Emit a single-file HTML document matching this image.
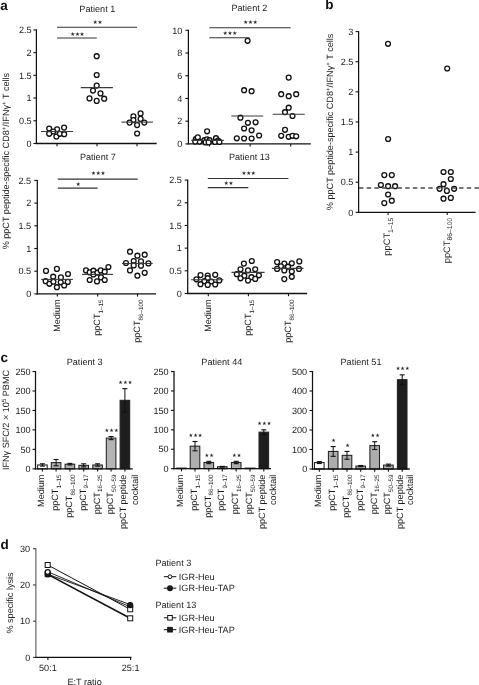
<!DOCTYPE html>
<html><head><meta charset="utf-8"><style>
html,body{margin:0;padding:0;background:#fff;}
svg{display:block;font-family:"Liberation Sans", Arial, sans-serif;text-rendering:geometricPrecision;}
</style></head><body>
<svg width="479" height="685" viewBox="0 0 479 685">
<rect width="479" height="685" fill="#fff"/>
<text x="0.2" y="9.6" font-size="13.5" font-weight="bold" fill="#111">a</text>
<text x="325.3" y="9.3" font-size="13.5" font-weight="bold" fill="#111">b</text>
<text x="0.4" y="361.6" font-size="13.5" font-weight="bold" fill="#111">c</text>
<text x="0.4" y="549.1" font-size="13.5" font-weight="bold" fill="#111">d</text>
<line x1="36.4" y1="29.4" x2="36.4" y2="144.0" stroke="#111" stroke-width="1.25" />
<line x1="33.4" y1="29.9" x2="36.4" y2="29.9" stroke="#111" stroke-width="1.1" />
<text x="31.599999999999998" y="33.1" font-size="9.1" text-anchor="end" fill="#1c1c1c" >2.5</text>
<line x1="33.4" y1="52.62" x2="36.4" y2="52.62" stroke="#111" stroke-width="1.1" />
<text x="31.599999999999998" y="55.82" font-size="9.1" text-anchor="end" fill="#1c1c1c" >2</text>
<line x1="33.4" y1="75.34" x2="36.4" y2="75.34" stroke="#111" stroke-width="1.1" />
<text x="31.599999999999998" y="78.54" font-size="9.1" text-anchor="end" fill="#1c1c1c" >1.5</text>
<line x1="33.4" y1="98.06" x2="36.4" y2="98.06" stroke="#111" stroke-width="1.1" />
<text x="31.599999999999998" y="101.26" font-size="9.1" text-anchor="end" fill="#1c1c1c" >1</text>
<line x1="33.4" y1="120.78" x2="36.4" y2="120.78" stroke="#111" stroke-width="1.1" />
<text x="31.599999999999998" y="123.98" font-size="9.1" text-anchor="end" fill="#1c1c1c" >0.5</text>
<line x1="33.4" y1="143.5" x2="36.4" y2="143.5" stroke="#111" stroke-width="1.1" />
<text x="31.599999999999998" y="146.7" font-size="9.1" text-anchor="end" fill="#1c1c1c" >0</text>
<line x1="35.8" y1="143.5" x2="156.7" y2="143.5" stroke="#111" stroke-width="1.3" />
<line x1="57" y1="143.5" x2="57" y2="146.2" stroke="#111" stroke-width="1.1" />
<line x1="97" y1="143.5" x2="97" y2="146.2" stroke="#111" stroke-width="1.1" />
<line x1="137" y1="143.5" x2="137" y2="146.2" stroke="#111" stroke-width="1.1" />
<text x="97.3" y="12" font-size="9.1" text-anchor="middle" fill="#1c1c1c" >Patient 1</text>
<circle cx="49.2" cy="128.5" r="2.45" fill="#fff" stroke="#111" stroke-width="1.3"/>
<circle cx="57.1" cy="129.3" r="2.45" fill="#fff" stroke="#111" stroke-width="1.3"/>
<circle cx="64.1" cy="127.6" r="2.45" fill="#fff" stroke="#111" stroke-width="1.3"/>
<circle cx="53.2" cy="131.5" r="2.45" fill="#fff" stroke="#111" stroke-width="1.3"/>
<circle cx="49.2" cy="133.8" r="2.45" fill="#fff" stroke="#111" stroke-width="1.3"/>
<circle cx="56.4" cy="136.6" r="2.45" fill="#fff" stroke="#111" stroke-width="1.3"/>
<circle cx="59.9" cy="133.8" r="2.45" fill="#fff" stroke="#111" stroke-width="1.3"/>
<circle cx="64.2" cy="134.2" r="2.45" fill="#fff" stroke="#111" stroke-width="1.3"/>
<circle cx="96.7" cy="56.2" r="2.45" fill="#fff" stroke="#111" stroke-width="1.3"/>
<circle cx="96.7" cy="75" r="2.45" fill="#fff" stroke="#111" stroke-width="1.3"/>
<circle cx="96.7" cy="85.6" r="2.45" fill="#fff" stroke="#111" stroke-width="1.3"/>
<circle cx="93" cy="90.6" r="2.45" fill="#fff" stroke="#111" stroke-width="1.3"/>
<circle cx="100.5" cy="93.4" r="2.45" fill="#fff" stroke="#111" stroke-width="1.3"/>
<circle cx="89.5" cy="98.4" r="2.45" fill="#fff" stroke="#111" stroke-width="1.3"/>
<circle cx="96.7" cy="100.9" r="2.45" fill="#fff" stroke="#111" stroke-width="1.3"/>
<circle cx="104.2" cy="98.7" r="2.45" fill="#fff" stroke="#111" stroke-width="1.3"/>
<circle cx="133.4" cy="116.4" r="2.45" fill="#fff" stroke="#111" stroke-width="1.3"/>
<circle cx="140.6" cy="113.4" r="2.45" fill="#fff" stroke="#111" stroke-width="1.3"/>
<circle cx="140.6" cy="118.9" r="2.45" fill="#fff" stroke="#111" stroke-width="1.3"/>
<circle cx="133.4" cy="120.1" r="2.45" fill="#fff" stroke="#111" stroke-width="1.3"/>
<circle cx="129.6" cy="122.6" r="2.45" fill="#fff" stroke="#111" stroke-width="1.3"/>
<circle cx="137.1" cy="125.1" r="2.45" fill="#fff" stroke="#111" stroke-width="1.3"/>
<circle cx="144.3" cy="122.6" r="2.45" fill="#fff" stroke="#111" stroke-width="1.3"/>
<circle cx="137.1" cy="133.5" r="2.45" fill="#fff" stroke="#111" stroke-width="1.3"/>
<line x1="41" y1="131.5" x2="73.1" y2="131.5" stroke="#3a3a3a" stroke-width="1.1" />
<line x1="80.8" y1="87.6" x2="112.9" y2="87.6" stroke="#3a3a3a" stroke-width="1.1" />
<line x1="121.4" y1="122.1" x2="153" y2="122.1" stroke="#3a3a3a" stroke-width="1.1" />
<line x1="57" y1="27.2" x2="137" y2="27.2" stroke="#333" stroke-width="1.1" />
<text x="95.15" y="23.87" font-size="5.5" text-anchor="middle" fill="#262626" font-family='"DejaVu Sans", sans-serif'>★</text>
<text x="99.85" y="23.87" font-size="5.5" text-anchor="middle" fill="#262626" font-family='"DejaVu Sans", sans-serif'>★</text>
<line x1="57" y1="38" x2="96.7" y2="38" stroke="#333" stroke-width="1.1" />
<text x="72.65" y="36.17" font-size="5.5" text-anchor="middle" fill="#262626" font-family='"DejaVu Sans", sans-serif'>★</text>
<text x="77.35" y="36.17" font-size="5.5" text-anchor="middle" fill="#262626" font-family='"DejaVu Sans", sans-serif'>★</text>
<text x="82.05" y="36.17" font-size="5.5" text-anchor="middle" fill="#262626" font-family='"DejaVu Sans", sans-serif'>★</text>
<line x1="188.4" y1="29.8" x2="188.4" y2="144.4" stroke="#111" stroke-width="1.25" />
<line x1="185.4" y1="30.3" x2="188.4" y2="30.3" stroke="#111" stroke-width="1.1" />
<text x="182.4" y="33.5" font-size="9.1" text-anchor="end" fill="#1c1c1c" >10</text>
<line x1="185.4" y1="53.02" x2="188.4" y2="53.02" stroke="#111" stroke-width="1.1" />
<text x="182.4" y="56.220000000000006" font-size="9.1" text-anchor="end" fill="#1c1c1c" >8</text>
<line x1="185.4" y1="75.74000000000001" x2="188.4" y2="75.74000000000001" stroke="#111" stroke-width="1.1" />
<text x="182.4" y="78.94000000000001" font-size="9.1" text-anchor="end" fill="#1c1c1c" >6</text>
<line x1="185.4" y1="98.46" x2="188.4" y2="98.46" stroke="#111" stroke-width="1.1" />
<text x="182.4" y="101.66" font-size="9.1" text-anchor="end" fill="#1c1c1c" >4</text>
<line x1="185.4" y1="121.18" x2="188.4" y2="121.18" stroke="#111" stroke-width="1.1" />
<text x="182.4" y="124.38000000000001" font-size="9.1" text-anchor="end" fill="#1c1c1c" >2</text>
<line x1="185.4" y1="143.9" x2="188.4" y2="143.9" stroke="#111" stroke-width="1.1" />
<text x="182.4" y="147.1" font-size="9.1" text-anchor="end" fill="#1c1c1c" >0</text>
<line x1="187.8" y1="143.9" x2="310.8" y2="143.9" stroke="#111" stroke-width="1.3" />
<line x1="209.4" y1="143.9" x2="209.4" y2="146.6" stroke="#111" stroke-width="1.1" />
<line x1="250.1" y1="143.9" x2="250.1" y2="146.6" stroke="#111" stroke-width="1.1" />
<line x1="290.7" y1="143.9" x2="290.7" y2="146.6" stroke="#111" stroke-width="1.1" />
<text x="249.4" y="11" font-size="9.1" text-anchor="middle" fill="#1c1c1c" >Patient 2</text>
<circle cx="207.1" cy="131.3" r="2.45" fill="#fff" stroke="#111" stroke-width="1.3"/>
<circle cx="195.8" cy="139.2" r="2.45" fill="#fff" stroke="#111" stroke-width="1.3"/>
<circle cx="197.8" cy="137.4" r="2.45" fill="#fff" stroke="#111" stroke-width="1.3"/>
<circle cx="199.4" cy="141.6" r="2.45" fill="#fff" stroke="#111" stroke-width="1.3"/>
<circle cx="195.2" cy="141.6" r="2.45" fill="#fff" stroke="#111" stroke-width="1.3"/>
<circle cx="204.4" cy="140.2" r="2.45" fill="#fff" stroke="#111" stroke-width="1.3"/>
<circle cx="207.1" cy="139.4" r="2.45" fill="#fff" stroke="#111" stroke-width="1.3"/>
<circle cx="209.6" cy="140.2" r="2.45" fill="#fff" stroke="#111" stroke-width="1.3"/>
<circle cx="205.6" cy="142.4" r="2.45" fill="#fff" stroke="#111" stroke-width="1.3"/>
<circle cx="208.6" cy="142.4" r="2.45" fill="#fff" stroke="#111" stroke-width="1.3"/>
<circle cx="216" cy="138.2" r="2.45" fill="#fff" stroke="#111" stroke-width="1.3"/>
<circle cx="218" cy="140.6" r="2.45" fill="#fff" stroke="#111" stroke-width="1.3"/>
<circle cx="215" cy="141.9" r="2.45" fill="#fff" stroke="#111" stroke-width="1.3"/>
<circle cx="219.4" cy="141.9" r="2.45" fill="#fff" stroke="#111" stroke-width="1.3"/>
<circle cx="247.6" cy="40.8" r="2.45" fill="#fff" stroke="#111" stroke-width="1.3"/>
<circle cx="244.1" cy="90.2" r="2.45" fill="#fff" stroke="#111" stroke-width="1.3"/>
<circle cx="251.6" cy="91.2" r="2.45" fill="#fff" stroke="#111" stroke-width="1.3"/>
<circle cx="240.4" cy="117.7" r="2.45" fill="#fff" stroke="#111" stroke-width="1.3"/>
<circle cx="247.9" cy="122.8" r="2.45" fill="#fff" stroke="#111" stroke-width="1.3"/>
<circle cx="255.6" cy="122.3" r="2.45" fill="#fff" stroke="#111" stroke-width="1.3"/>
<circle cx="244.1" cy="128.5" r="2.45" fill="#fff" stroke="#111" stroke-width="1.3"/>
<circle cx="251.6" cy="130.3" r="2.45" fill="#fff" stroke="#111" stroke-width="1.3"/>
<circle cx="236.8" cy="138.3" r="2.45" fill="#fff" stroke="#111" stroke-width="1.3"/>
<circle cx="244.1" cy="138.5" r="2.45" fill="#fff" stroke="#111" stroke-width="1.3"/>
<circle cx="251.6" cy="138.5" r="2.45" fill="#fff" stroke="#111" stroke-width="1.3"/>
<circle cx="259.1" cy="135.5" r="2.45" fill="#fff" stroke="#111" stroke-width="1.3"/>
<circle cx="288.7" cy="77.6" r="2.45" fill="#fff" stroke="#111" stroke-width="1.3"/>
<circle cx="281.2" cy="94.2" r="2.45" fill="#fff" stroke="#111" stroke-width="1.3"/>
<circle cx="288.7" cy="96.2" r="2.45" fill="#fff" stroke="#111" stroke-width="1.3"/>
<circle cx="296.2" cy="94.2" r="2.45" fill="#fff" stroke="#111" stroke-width="1.3"/>
<circle cx="288.7" cy="107.7" r="2.45" fill="#fff" stroke="#111" stroke-width="1.3"/>
<circle cx="285" cy="112.2" r="2.45" fill="#fff" stroke="#111" stroke-width="1.3"/>
<circle cx="292.5" cy="116" r="2.45" fill="#fff" stroke="#111" stroke-width="1.3"/>
<circle cx="285" cy="129.8" r="2.45" fill="#fff" stroke="#111" stroke-width="1.3"/>
<circle cx="281.2" cy="135.8" r="2.45" fill="#fff" stroke="#111" stroke-width="1.3"/>
<circle cx="288.7" cy="136.8" r="2.45" fill="#fff" stroke="#111" stroke-width="1.3"/>
<circle cx="292.5" cy="135.8" r="2.45" fill="#fff" stroke="#111" stroke-width="1.3"/>
<circle cx="296.2" cy="136.3" r="2.45" fill="#fff" stroke="#111" stroke-width="1.3"/>
<line x1="191.3" y1="140.4" x2="223.8" y2="140.4" stroke="#3a3a3a" stroke-width="1.1" />
<line x1="231.3" y1="116" x2="263.2" y2="116" stroke="#3a3a3a" stroke-width="1.1" />
<line x1="272.7" y1="114.2" x2="304.8" y2="114.2" stroke="#3a3a3a" stroke-width="1.1" />
<line x1="209.3" y1="27.7" x2="290.7" y2="27.7" stroke="#333" stroke-width="1.1" />
<text x="245.80" y="24.27" font-size="5.5" text-anchor="middle" fill="#262626" font-family='"DejaVu Sans", sans-serif'>★</text>
<text x="250.50" y="24.27" font-size="5.5" text-anchor="middle" fill="#262626" font-family='"DejaVu Sans", sans-serif'>★</text>
<text x="255.20" y="24.27" font-size="5.5" text-anchor="middle" fill="#262626" font-family='"DejaVu Sans", sans-serif'>★</text>
<line x1="209.3" y1="37.8" x2="249.6" y2="37.8" stroke="#333" stroke-width="1.1" />
<text x="225.25" y="35.47" font-size="5.5" text-anchor="middle" fill="#262626" font-family='"DejaVu Sans", sans-serif'>★</text>
<text x="229.95" y="35.47" font-size="5.5" text-anchor="middle" fill="#262626" font-family='"DejaVu Sans", sans-serif'>★</text>
<text x="234.65" y="35.47" font-size="5.5" text-anchor="middle" fill="#262626" font-family='"DejaVu Sans", sans-serif'>★</text>
<line x1="37.3" y1="179.9" x2="37.3" y2="294.4" stroke="#111" stroke-width="1.25" />
<line x1="34.3" y1="180.4" x2="37.3" y2="180.4" stroke="#111" stroke-width="1.1" />
<text x="31.199999999999996" y="183.6" font-size="9.1" text-anchor="end" fill="#1c1c1c" >2.5</text>
<line x1="34.3" y1="203.1" x2="37.3" y2="203.1" stroke="#111" stroke-width="1.1" />
<text x="31.199999999999996" y="206.29999999999998" font-size="9.1" text-anchor="end" fill="#1c1c1c" >2</text>
<line x1="34.3" y1="225.8" x2="37.3" y2="225.8" stroke="#111" stroke-width="1.1" />
<text x="31.199999999999996" y="229.0" font-size="9.1" text-anchor="end" fill="#1c1c1c" >1.5</text>
<line x1="34.3" y1="248.5" x2="37.3" y2="248.5" stroke="#111" stroke-width="1.1" />
<text x="31.199999999999996" y="251.7" font-size="9.1" text-anchor="end" fill="#1c1c1c" >1</text>
<line x1="34.3" y1="271.2" x2="37.3" y2="271.2" stroke="#111" stroke-width="1.1" />
<text x="31.199999999999996" y="274.4" font-size="9.1" text-anchor="end" fill="#1c1c1c" >0.5</text>
<line x1="34.3" y1="293.9" x2="37.3" y2="293.9" stroke="#111" stroke-width="1.1" />
<text x="31.199999999999996" y="297.09999999999997" font-size="9.1" text-anchor="end" fill="#1c1c1c" >0</text>
<line x1="36.699999999999996" y1="293.9" x2="156" y2="293.9" stroke="#111" stroke-width="1.3" />
<line x1="57.3" y1="293.9" x2="57.3" y2="296.59999999999997" stroke="#111" stroke-width="1.1" />
<line x1="97.7" y1="293.9" x2="97.7" y2="296.59999999999997" stroke="#111" stroke-width="1.1" />
<line x1="137.5" y1="293.9" x2="137.5" y2="296.59999999999997" stroke="#111" stroke-width="1.1" />
<text x="97.9" y="159.5" font-size="9.1" text-anchor="middle" fill="#1c1c1c" >Patient 7</text>
<circle cx="46" cy="270.9" r="2.45" fill="#fff" stroke="#111" stroke-width="1.3"/>
<circle cx="56.9" cy="268.9" r="2.45" fill="#fff" stroke="#111" stroke-width="1.3"/>
<circle cx="68" cy="274" r="2.45" fill="#fff" stroke="#111" stroke-width="1.3"/>
<circle cx="53.2" cy="276.7" r="2.45" fill="#fff" stroke="#111" stroke-width="1.3"/>
<circle cx="60.9" cy="277.4" r="2.45" fill="#fff" stroke="#111" stroke-width="1.3"/>
<circle cx="45.6" cy="281.2" r="2.45" fill="#fff" stroke="#111" stroke-width="1.3"/>
<circle cx="49.4" cy="283.8" r="2.45" fill="#fff" stroke="#111" stroke-width="1.3"/>
<circle cx="53.4" cy="281.7" r="2.45" fill="#fff" stroke="#111" stroke-width="1.3"/>
<circle cx="60.7" cy="282.3" r="2.45" fill="#fff" stroke="#111" stroke-width="1.3"/>
<circle cx="67.8" cy="281.9" r="2.45" fill="#fff" stroke="#111" stroke-width="1.3"/>
<circle cx="56.9" cy="287.2" r="2.45" fill="#fff" stroke="#111" stroke-width="1.3"/>
<circle cx="64.2" cy="285.5" r="2.45" fill="#fff" stroke="#111" stroke-width="1.3"/>
<circle cx="86" cy="270.4" r="2.45" fill="#fff" stroke="#111" stroke-width="1.3"/>
<circle cx="89.7" cy="272.4" r="2.45" fill="#fff" stroke="#111" stroke-width="1.3"/>
<circle cx="93.4" cy="270.7" r="2.45" fill="#fff" stroke="#111" stroke-width="1.3"/>
<circle cx="93.4" cy="274.4" r="2.45" fill="#fff" stroke="#111" stroke-width="1.3"/>
<circle cx="97.4" cy="272.7" r="2.45" fill="#fff" stroke="#111" stroke-width="1.3"/>
<circle cx="100.7" cy="270.4" r="2.45" fill="#fff" stroke="#111" stroke-width="1.3"/>
<circle cx="104.7" cy="271.7" r="2.45" fill="#fff" stroke="#111" stroke-width="1.3"/>
<circle cx="108.4" cy="267" r="2.45" fill="#fff" stroke="#111" stroke-width="1.3"/>
<circle cx="101" cy="277.4" r="2.45" fill="#fff" stroke="#111" stroke-width="1.3"/>
<circle cx="89.7" cy="280" r="2.45" fill="#fff" stroke="#111" stroke-width="1.3"/>
<circle cx="97" cy="281.4" r="2.45" fill="#fff" stroke="#111" stroke-width="1.3"/>
<circle cx="104.7" cy="280" r="2.45" fill="#fff" stroke="#111" stroke-width="1.3"/>
<circle cx="130" cy="251.7" r="2.45" fill="#fff" stroke="#111" stroke-width="1.3"/>
<circle cx="137.4" cy="255.7" r="2.45" fill="#fff" stroke="#111" stroke-width="1.3"/>
<circle cx="144.7" cy="254.7" r="2.45" fill="#fff" stroke="#111" stroke-width="1.3"/>
<circle cx="126" cy="263" r="2.45" fill="#fff" stroke="#111" stroke-width="1.3"/>
<circle cx="133.7" cy="261" r="2.45" fill="#fff" stroke="#111" stroke-width="1.3"/>
<circle cx="141" cy="261.4" r="2.45" fill="#fff" stroke="#111" stroke-width="1.3"/>
<circle cx="148.4" cy="263.4" r="2.45" fill="#fff" stroke="#111" stroke-width="1.3"/>
<circle cx="133.7" cy="265.4" r="2.45" fill="#fff" stroke="#111" stroke-width="1.3"/>
<circle cx="141" cy="265.7" r="2.45" fill="#fff" stroke="#111" stroke-width="1.3"/>
<circle cx="130" cy="270.4" r="2.45" fill="#fff" stroke="#111" stroke-width="1.3"/>
<circle cx="144.7" cy="272.8" r="2.45" fill="#fff" stroke="#111" stroke-width="1.3"/>
<circle cx="137.4" cy="275.7" r="2.45" fill="#fff" stroke="#111" stroke-width="1.3"/>
<line x1="41.1" y1="279.4" x2="72.9" y2="279.4" stroke="#3a3a3a" stroke-width="1.1" />
<line x1="82" y1="274.4" x2="112.9" y2="274.4" stroke="#3a3a3a" stroke-width="1.1" />
<line x1="122" y1="263.5" x2="152.7" y2="263.5" stroke="#3a3a3a" stroke-width="1.1" />
<line x1="57.8" y1="179.1" x2="137.7" y2="179.1" stroke="#333" stroke-width="1.1" />
<text x="93.55" y="175.07" font-size="5.5" text-anchor="middle" fill="#262626" font-family='"DejaVu Sans", sans-serif'>★</text>
<text x="98.25" y="175.07" font-size="5.5" text-anchor="middle" fill="#262626" font-family='"DejaVu Sans", sans-serif'>★</text>
<text x="102.95" y="175.07" font-size="5.5" text-anchor="middle" fill="#262626" font-family='"DejaVu Sans", sans-serif'>★</text>
<line x1="57.8" y1="188.1" x2="97.6" y2="188.1" stroke="#333" stroke-width="1.1" />
<text x="78.20" y="186.17" font-size="5.5" text-anchor="middle" fill="#262626" font-family='"DejaVu Sans", sans-serif'>★</text>
<line x1="187.7" y1="179.6" x2="187.7" y2="294.0" stroke="#111" stroke-width="1.25" />
<line x1="184.7" y1="180.1" x2="187.7" y2="180.1" stroke="#111" stroke-width="1.1" />
<text x="181.89999999999998" y="183.29999999999998" font-size="9.1" text-anchor="end" fill="#1c1c1c" >2.5</text>
<line x1="184.7" y1="202.78" x2="187.7" y2="202.78" stroke="#111" stroke-width="1.1" />
<text x="181.89999999999998" y="205.98" font-size="9.1" text-anchor="end" fill="#1c1c1c" >2</text>
<line x1="184.7" y1="225.45999999999998" x2="187.7" y2="225.45999999999998" stroke="#111" stroke-width="1.1" />
<text x="181.89999999999998" y="228.65999999999997" font-size="9.1" text-anchor="end" fill="#1c1c1c" >1.5</text>
<line x1="184.7" y1="248.14" x2="187.7" y2="248.14" stroke="#111" stroke-width="1.1" />
<text x="181.89999999999998" y="251.33999999999997" font-size="9.1" text-anchor="end" fill="#1c1c1c" >1</text>
<line x1="184.7" y1="270.82" x2="187.7" y2="270.82" stroke="#111" stroke-width="1.1" />
<text x="181.89999999999998" y="274.02" font-size="9.1" text-anchor="end" fill="#1c1c1c" >0.5</text>
<line x1="184.7" y1="293.5" x2="187.7" y2="293.5" stroke="#111" stroke-width="1.1" />
<text x="181.89999999999998" y="296.7" font-size="9.1" text-anchor="end" fill="#1c1c1c" >0</text>
<line x1="187.1" y1="293.5" x2="307.2" y2="293.5" stroke="#111" stroke-width="1.3" />
<line x1="208.3" y1="293.5" x2="208.3" y2="296.2" stroke="#111" stroke-width="1.1" />
<line x1="248.4" y1="293.5" x2="248.4" y2="296.2" stroke="#111" stroke-width="1.1" />
<line x1="288.5" y1="293.5" x2="288.5" y2="296.2" stroke="#111" stroke-width="1.1" />
<text x="249.4" y="159.5" font-size="9.1" text-anchor="middle" fill="#1c1c1c" >Patient 13</text>
<circle cx="200.5" cy="275.1" r="2.45" fill="#fff" stroke="#111" stroke-width="1.3"/>
<circle cx="207.7" cy="275.5" r="2.45" fill="#fff" stroke="#111" stroke-width="1.3"/>
<circle cx="215.2" cy="274.8" r="2.45" fill="#fff" stroke="#111" stroke-width="1.3"/>
<circle cx="196.4" cy="279.3" r="2.45" fill="#fff" stroke="#111" stroke-width="1.3"/>
<circle cx="207.7" cy="278.2" r="2.45" fill="#fff" stroke="#111" stroke-width="1.3"/>
<circle cx="204.3" cy="281.2" r="2.45" fill="#fff" stroke="#111" stroke-width="1.3"/>
<circle cx="211.4" cy="281.5" r="2.45" fill="#fff" stroke="#111" stroke-width="1.3"/>
<circle cx="219.3" cy="280.4" r="2.45" fill="#fff" stroke="#111" stroke-width="1.3"/>
<circle cx="200.5" cy="284.2" r="2.45" fill="#fff" stroke="#111" stroke-width="1.3"/>
<circle cx="207.7" cy="284.9" r="2.45" fill="#fff" stroke="#111" stroke-width="1.3"/>
<circle cx="215.2" cy="284.5" r="2.45" fill="#fff" stroke="#111" stroke-width="1.3"/>
<circle cx="251.8" cy="261" r="2.45" fill="#fff" stroke="#111" stroke-width="1.3"/>
<circle cx="243.9" cy="263.6" r="2.45" fill="#fff" stroke="#111" stroke-width="1.3"/>
<circle cx="240.5" cy="269.3" r="2.45" fill="#fff" stroke="#111" stroke-width="1.3"/>
<circle cx="248" cy="270.4" r="2.45" fill="#fff" stroke="#111" stroke-width="1.3"/>
<circle cx="255.2" cy="269.3" r="2.45" fill="#fff" stroke="#111" stroke-width="1.3"/>
<circle cx="236.8" cy="274.2" r="2.45" fill="#fff" stroke="#111" stroke-width="1.3"/>
<circle cx="244.3" cy="275.7" r="2.45" fill="#fff" stroke="#111" stroke-width="1.3"/>
<circle cx="251.4" cy="277.2" r="2.45" fill="#fff" stroke="#111" stroke-width="1.3"/>
<circle cx="258.9" cy="275.3" r="2.45" fill="#fff" stroke="#111" stroke-width="1.3"/>
<circle cx="240.5" cy="278.3" r="2.45" fill="#fff" stroke="#111" stroke-width="1.3"/>
<circle cx="248" cy="280.6" r="2.45" fill="#fff" stroke="#111" stroke-width="1.3"/>
<circle cx="255.2" cy="278.9" r="2.45" fill="#fff" stroke="#111" stroke-width="1.3"/>
<circle cx="277.1" cy="262.1" r="2.45" fill="#fff" stroke="#111" stroke-width="1.3"/>
<circle cx="284.3" cy="263.6" r="2.45" fill="#fff" stroke="#111" stroke-width="1.3"/>
<circle cx="291.8" cy="263.3" r="2.45" fill="#fff" stroke="#111" stroke-width="1.3"/>
<circle cx="299.3" cy="261.4" r="2.45" fill="#fff" stroke="#111" stroke-width="1.3"/>
<circle cx="280.9" cy="266.3" r="2.45" fill="#fff" stroke="#111" stroke-width="1.3"/>
<circle cx="288" cy="266.7" r="2.45" fill="#fff" stroke="#111" stroke-width="1.3"/>
<circle cx="277.1" cy="268.9" r="2.45" fill="#fff" stroke="#111" stroke-width="1.3"/>
<circle cx="284.3" cy="270.4" r="2.45" fill="#fff" stroke="#111" stroke-width="1.3"/>
<circle cx="291.8" cy="271.5" r="2.45" fill="#fff" stroke="#111" stroke-width="1.3"/>
<circle cx="299" cy="268.9" r="2.45" fill="#fff" stroke="#111" stroke-width="1.3"/>
<circle cx="291.8" cy="276.8" r="2.45" fill="#fff" stroke="#111" stroke-width="1.3"/>
<circle cx="284.3" cy="279.1" r="2.45" fill="#fff" stroke="#111" stroke-width="1.3"/>
<line x1="191.1" y1="279.8" x2="223.5" y2="279.8" stroke="#3a3a3a" stroke-width="1.1" />
<line x1="231.5" y1="272.4" x2="264.6" y2="272.4" stroke="#3a3a3a" stroke-width="1.1" />
<line x1="271.9" y1="268.4" x2="303.5" y2="268.4" stroke="#3a3a3a" stroke-width="1.1" />
<line x1="207.8" y1="178.5" x2="288.4" y2="178.5" stroke="#333" stroke-width="1.1" />
<text x="243.90" y="175.47" font-size="5.5" text-anchor="middle" fill="#262626" font-family='"DejaVu Sans", sans-serif'>★</text>
<text x="248.60" y="175.47" font-size="5.5" text-anchor="middle" fill="#262626" font-family='"DejaVu Sans", sans-serif'>★</text>
<text x="253.30" y="175.47" font-size="5.5" text-anchor="middle" fill="#262626" font-family='"DejaVu Sans", sans-serif'>★</text>
<line x1="207.8" y1="187.6" x2="248.3" y2="187.6" stroke="#333" stroke-width="1.1" />
<text x="226.20" y="185.17" font-size="5.5" text-anchor="middle" fill="#262626" font-family='"DejaVu Sans", sans-serif'>★</text>
<text x="230.90" y="185.17" font-size="5.5" text-anchor="middle" fill="#262626" font-family='"DejaVu Sans", sans-serif'>★</text>
<text transform="translate(9.0,161.1) rotate(-90)" font-size="9.1" text-anchor="middle" fill="#1c1c1c">% ppCT peptide-specific CD8<tspan font-size="6" dy="-3">+</tspan><tspan dy="3">/IFNγ</tspan><tspan font-size="6" dy="-3">+</tspan><tspan dy="3"> T cells</tspan></text>
<text transform="translate(59.9,299.5) rotate(-90)" font-size="9.1" text-anchor="end" fill="#1c1c1c">Medium</text>
<text transform="translate(100.3,299.5) rotate(-90)" font-size="9.1" text-anchor="end" fill="#1c1c1c">ppCT<tspan font-size="6.3" dy="2.7">1–15</tspan></text>
<text transform="translate(140.1,299.5) rotate(-90)" font-size="9.1" text-anchor="end" fill="#1c1c1c">ppCT<tspan font-size="6.3" dy="2.7">86–100</tspan></text>
<text transform="translate(210.9,299.5) rotate(-90)" font-size="9.1" text-anchor="end" fill="#1c1c1c">Medium</text>
<text transform="translate(251.0,299.5) rotate(-90)" font-size="9.1" text-anchor="end" fill="#1c1c1c">ppCT<tspan font-size="6.3" dy="2.7">1–15</tspan></text>
<text transform="translate(291.1,299.5) rotate(-90)" font-size="9.1" text-anchor="end" fill="#1c1c1c">ppCT<tspan font-size="6.3" dy="2.7">86–100</tspan></text>
<line x1="358.6" y1="31.1" x2="358.6" y2="212.85" stroke="#111" stroke-width="1.25" />
<line x1="355.6" y1="31.6" x2="358.6" y2="31.6" stroke="#111" stroke-width="1.1" />
<text x="353.3" y="34.800000000000004" font-size="9.1" text-anchor="end" fill="#1c1c1c" >3</text>
<line x1="355.6" y1="61.725" x2="358.6" y2="61.725" stroke="#111" stroke-width="1.1" />
<text x="353.3" y="64.925" font-size="9.1" text-anchor="end" fill="#1c1c1c" >2.5</text>
<line x1="355.6" y1="91.85" x2="358.6" y2="91.85" stroke="#111" stroke-width="1.1" />
<text x="353.3" y="95.05" font-size="9.1" text-anchor="end" fill="#1c1c1c" >2</text>
<line x1="355.6" y1="121.975" x2="358.6" y2="121.975" stroke="#111" stroke-width="1.1" />
<text x="353.3" y="125.175" font-size="9.1" text-anchor="end" fill="#1c1c1c" >1.5</text>
<line x1="355.6" y1="152.1" x2="358.6" y2="152.1" stroke="#111" stroke-width="1.1" />
<text x="353.3" y="155.29999999999998" font-size="9.1" text-anchor="end" fill="#1c1c1c" >1</text>
<line x1="355.6" y1="182.225" x2="358.6" y2="182.225" stroke="#111" stroke-width="1.1" />
<text x="353.3" y="185.42499999999998" font-size="9.1" text-anchor="end" fill="#1c1c1c" >0.5</text>
<line x1="355.6" y1="212.35" x2="358.6" y2="212.35" stroke="#111" stroke-width="1.1" />
<text x="353.3" y="215.54999999999998" font-size="9.1" text-anchor="end" fill="#1c1c1c" >0</text>
<line x1="358.0" y1="212.35" x2="475.6" y2="212.35" stroke="#111" stroke-width="1.3" />
<line x1="388.1" y1="212.35" x2="388.1" y2="215.04999999999998" stroke="#111" stroke-width="1.1" />
<line x1="447.2" y1="212.35" x2="447.2" y2="215.04999999999998" stroke="#111" stroke-width="1.1" />
<circle cx="388" cy="43.8" r="2.45" fill="#fff" stroke="#111" stroke-width="1.3"/>
<circle cx="388.1" cy="139" r="2.45" fill="#fff" stroke="#111" stroke-width="1.3"/>
<circle cx="384.3" cy="175.1" r="2.45" fill="#fff" stroke="#111" stroke-width="1.3"/>
<circle cx="391.8" cy="175.1" r="2.45" fill="#fff" stroke="#111" stroke-width="1.3"/>
<circle cx="380.9" cy="185" r="2.45" fill="#fff" stroke="#111" stroke-width="1.3"/>
<circle cx="388.1" cy="186.2" r="2.45" fill="#fff" stroke="#111" stroke-width="1.3"/>
<circle cx="395.1" cy="186.2" r="2.45" fill="#fff" stroke="#111" stroke-width="1.3"/>
<circle cx="388.1" cy="194.5" r="2.45" fill="#fff" stroke="#111" stroke-width="1.3"/>
<circle cx="384.3" cy="203.1" r="2.45" fill="#fff" stroke="#111" stroke-width="1.3"/>
<circle cx="391.8" cy="200.7" r="2.45" fill="#fff" stroke="#111" stroke-width="1.3"/>
<circle cx="447.2" cy="68.5" r="2.45" fill="#fff" stroke="#111" stroke-width="1.3"/>
<circle cx="443.5" cy="172" r="2.45" fill="#fff" stroke="#111" stroke-width="1.3"/>
<circle cx="450.8" cy="172" r="2.45" fill="#fff" stroke="#111" stroke-width="1.3"/>
<circle cx="450.8" cy="179" r="2.45" fill="#fff" stroke="#111" stroke-width="1.3"/>
<circle cx="443.5" cy="184.2" r="2.45" fill="#fff" stroke="#111" stroke-width="1.3"/>
<circle cx="439.6" cy="188.8" r="2.45" fill="#fff" stroke="#111" stroke-width="1.3"/>
<circle cx="446.9" cy="190.9" r="2.45" fill="#fff" stroke="#111" stroke-width="1.3"/>
<circle cx="454.1" cy="188.8" r="2.45" fill="#fff" stroke="#111" stroke-width="1.3"/>
<circle cx="443.5" cy="198.7" r="2.45" fill="#fff" stroke="#111" stroke-width="1.3"/>
<circle cx="450.8" cy="197.9" r="2.45" fill="#fff" stroke="#111" stroke-width="1.3"/>
<line x1="359.0" y1="188.0" x2="479" y2="188.0" stroke="#4a4a4a" stroke-width="1.6" stroke-dasharray="4.4,3.3"/>
<text transform="translate(332.5,121.9) rotate(-90)" font-size="9.1" text-anchor="middle" fill="#1c1c1c">% ppCT peptide-specific CD8<tspan font-size="6" dy="-3">+</tspan><tspan dy="3">/IFNγ</tspan><tspan font-size="6" dy="-3">+</tspan><tspan dy="3"> T cells</tspan></text>
<text transform="translate(390.4,217.8) rotate(-90)" font-size="9.3" text-anchor="end" fill="#1c1c1c">ppCT<tspan font-size="6.8" dy="2.9">1–15</tspan></text>
<text transform="translate(449.5,217.8) rotate(-90)" font-size="9.3" text-anchor="end" fill="#1c1c1c">ppCT<tspan font-size="6.8" dy="2.9">86–100</tspan></text>
<line x1="35.5" y1="371.0" x2="35.5" y2="469.35" stroke="#111" stroke-width="1.25" />
<line x1="32.5" y1="371.5" x2="35.5" y2="371.5" stroke="#111" stroke-width="1.1" />
<text x="30.6" y="374.7" font-size="9.1" text-anchor="end" fill="#1c1c1c" >250</text>
<line x1="32.5" y1="390.97" x2="35.5" y2="390.97" stroke="#111" stroke-width="1.1" />
<text x="30.6" y="394.17" font-size="9.1" text-anchor="end" fill="#1c1c1c" >200</text>
<line x1="32.5" y1="410.44" x2="35.5" y2="410.44" stroke="#111" stroke-width="1.1" />
<text x="30.6" y="413.64" font-size="9.1" text-anchor="end" fill="#1c1c1c" >150</text>
<line x1="32.5" y1="429.91" x2="35.5" y2="429.91" stroke="#111" stroke-width="1.1" />
<text x="30.6" y="433.11" font-size="9.1" text-anchor="end" fill="#1c1c1c" >100</text>
<line x1="32.5" y1="449.38" x2="35.5" y2="449.38" stroke="#111" stroke-width="1.1" />
<text x="30.6" y="452.58" font-size="9.1" text-anchor="end" fill="#1c1c1c" >50</text>
<line x1="32.5" y1="468.85" x2="35.5" y2="468.85" stroke="#111" stroke-width="1.1" />
<text x="30.6" y="472.05" font-size="9.1" text-anchor="end" fill="#1c1c1c" >0</text>
<rect x="37.60" y="464.96" width="9.6" height="3.89" fill="#fff" stroke="#222" stroke-width="1.05"/>
<line x1="42.4" y1="463.7878" x2="42.4" y2="466.12420000000003" stroke="#111" stroke-width="1.0" />
<line x1="39.9" y1="463.7878" x2="44.9" y2="463.7878" stroke="#111" stroke-width="1.1" />
<line x1="39.9" y1="466.12420000000003" x2="44.9" y2="466.12420000000003" stroke="#111" stroke-width="1.1" />
<rect x="51.30" y="462.62" width="9.6" height="6.23" fill="#adadad" stroke="#222" stroke-width="1.05"/>
<line x1="56.1" y1="459.50440000000003" x2="56.1" y2="465.73480000000006" stroke="#111" stroke-width="1.0" />
<line x1="53.6" y1="459.50440000000003" x2="58.6" y2="459.50440000000003" stroke="#111" stroke-width="1.1" />
<line x1="53.6" y1="465.73480000000006" x2="58.6" y2="465.73480000000006" stroke="#111" stroke-width="1.1" />
<rect x="65.10" y="464.18" width="9.6" height="4.67" fill="#adadad" stroke="#222" stroke-width="1.05"/>
<line x1="69.9" y1="463.39840000000004" x2="69.9" y2="464.956" stroke="#111" stroke-width="1.0" />
<line x1="67.4" y1="463.39840000000004" x2="72.4" y2="463.39840000000004" stroke="#111" stroke-width="1.1" />
<line x1="67.4" y1="464.956" x2="72.4" y2="464.956" stroke="#111" stroke-width="1.1" />
<rect x="78.90" y="465.35" width="9.6" height="3.50" fill="#adadad" stroke="#222" stroke-width="1.05"/>
<line x1="83.7" y1="463.78780000000006" x2="83.7" y2="466.903" stroke="#111" stroke-width="1.0" />
<line x1="81.2" y1="463.78780000000006" x2="86.2" y2="463.78780000000006" stroke="#111" stroke-width="1.1" />
<line x1="81.2" y1="466.903" x2="86.2" y2="466.903" stroke="#111" stroke-width="1.1" />
<rect x="92.80" y="464.96" width="9.6" height="3.89" fill="#adadad" stroke="#222" stroke-width="1.05"/>
<line x1="97.6" y1="463.7878" x2="97.6" y2="466.12420000000003" stroke="#111" stroke-width="1.0" />
<line x1="95.1" y1="463.7878" x2="100.1" y2="463.7878" stroke="#111" stroke-width="1.1" />
<line x1="95.1" y1="466.12420000000003" x2="100.1" y2="466.12420000000003" stroke="#111" stroke-width="1.1" />
<rect x="106.30" y="438.09" width="9.6" height="30.76" fill="#b4b4b4" stroke="#222" stroke-width="1.05"/>
<line x1="111.1" y1="436.5298" x2="111.1" y2="439.645" stroke="#111" stroke-width="1.0" />
<line x1="108.6" y1="436.5298" x2="113.6" y2="436.5298" stroke="#111" stroke-width="1.1" />
<line x1="108.6" y1="439.645" x2="113.6" y2="439.645" stroke="#111" stroke-width="1.1" />
<text x="106.90" y="432.10" font-size="5.2" text-anchor="middle" fill="#262626" font-family='"DejaVu Sans", sans-serif'>★</text>
<text x="111.60" y="432.10" font-size="5.2" text-anchor="middle" fill="#262626" font-family='"DejaVu Sans", sans-serif'>★</text>
<text x="116.30" y="432.10" font-size="5.2" text-anchor="middle" fill="#262626" font-family='"DejaVu Sans", sans-serif'>★</text>
<rect x="120.10" y="400.32" width="9.6" height="68.53" fill="#1e1e1e" stroke="#222" stroke-width="1.05"/>
<line x1="124.9" y1="388.6336" x2="124.9" y2="411.99760000000003" stroke="#111" stroke-width="1.0" />
<line x1="122.4" y1="388.6336" x2="127.4" y2="388.6336" stroke="#111" stroke-width="1.1" />
<line x1="122.4" y1="411.99760000000003" x2="127.4" y2="411.99760000000003" stroke="#111" stroke-width="1.1" />
<text x="120.70" y="384.20" font-size="5.2" text-anchor="middle" fill="#262626" font-family='"DejaVu Sans", sans-serif'>★</text>
<text x="125.40" y="384.20" font-size="5.2" text-anchor="middle" fill="#262626" font-family='"DejaVu Sans", sans-serif'>★</text>
<text x="130.10" y="384.20" font-size="5.2" text-anchor="middle" fill="#262626" font-family='"DejaVu Sans", sans-serif'>★</text>
<line x1="34.9" y1="468.85" x2="132.8" y2="468.85" stroke="#111" stroke-width="1.3" />
<line x1="42.4" y1="468.85" x2="42.4" y2="471.55" stroke="#111" stroke-width="1.1" />
<line x1="56.1" y1="468.85" x2="56.1" y2="471.55" stroke="#111" stroke-width="1.1" />
<line x1="69.9" y1="468.85" x2="69.9" y2="471.55" stroke="#111" stroke-width="1.1" />
<line x1="83.7" y1="468.85" x2="83.7" y2="471.55" stroke="#111" stroke-width="1.1" />
<line x1="97.6" y1="468.85" x2="97.6" y2="471.55" stroke="#111" stroke-width="1.1" />
<line x1="111.1" y1="468.85" x2="111.1" y2="471.55" stroke="#111" stroke-width="1.1" />
<line x1="124.9" y1="468.85" x2="124.9" y2="471.55" stroke="#111" stroke-width="1.1" />
<text x="84.7" y="365" font-size="9.1" text-anchor="middle" fill="#1c1c1c" >Patient 3</text>
<line x1="174.0" y1="371.0" x2="174.0" y2="469.2" stroke="#111" stroke-width="1.25" />
<line x1="171.0" y1="371.5" x2="174.0" y2="371.5" stroke="#111" stroke-width="1.1" />
<text x="168.6" y="374.7" font-size="9.1" text-anchor="end" fill="#1c1c1c" >250</text>
<line x1="171.0" y1="390.94" x2="174.0" y2="390.94" stroke="#111" stroke-width="1.1" />
<text x="168.6" y="394.14" font-size="9.1" text-anchor="end" fill="#1c1c1c" >200</text>
<line x1="171.0" y1="410.38" x2="174.0" y2="410.38" stroke="#111" stroke-width="1.1" />
<text x="168.6" y="413.58" font-size="9.1" text-anchor="end" fill="#1c1c1c" >150</text>
<line x1="171.0" y1="429.82" x2="174.0" y2="429.82" stroke="#111" stroke-width="1.1" />
<text x="168.6" y="433.02" font-size="9.1" text-anchor="end" fill="#1c1c1c" >100</text>
<line x1="171.0" y1="449.26" x2="174.0" y2="449.26" stroke="#111" stroke-width="1.1" />
<text x="168.6" y="452.46" font-size="9.1" text-anchor="end" fill="#1c1c1c" >50</text>
<line x1="171.0" y1="468.7" x2="174.0" y2="468.7" stroke="#111" stroke-width="1.1" />
<text x="168.6" y="471.9" font-size="9.1" text-anchor="end" fill="#1c1c1c" >0</text>
<rect x="176.70" y="468.10" width="9.6" height="0.60" fill="#fff" stroke="#222" stroke-width="1.05"/>
<rect x="190.20" y="446.15" width="9.6" height="22.55" fill="#adadad" stroke="#222" stroke-width="1.05"/>
<line x1="195" y1="441.484" x2="195" y2="450.81519999999995" stroke="#111" stroke-width="1.0" />
<line x1="192.5" y1="441.484" x2="197.5" y2="441.484" stroke="#111" stroke-width="1.1" />
<line x1="192.5" y1="450.81519999999995" x2="197.5" y2="450.81519999999995" stroke="#111" stroke-width="1.1" />
<text x="190.80" y="437.05" font-size="5.2" text-anchor="middle" fill="#262626" font-family='"DejaVu Sans", sans-serif'>★</text>
<text x="195.50" y="437.05" font-size="5.2" text-anchor="middle" fill="#262626" font-family='"DejaVu Sans", sans-serif'>★</text>
<text x="200.20" y="437.05" font-size="5.2" text-anchor="middle" fill="#262626" font-family='"DejaVu Sans", sans-serif'>★</text>
<rect x="204.00" y="462.48" width="9.6" height="6.22" fill="#adadad" stroke="#222" stroke-width="1.05"/>
<line x1="208.8" y1="461.3128" x2="208.8" y2="463.6456" stroke="#111" stroke-width="1.0" />
<line x1="206.3" y1="461.3128" x2="211.3" y2="461.3128" stroke="#111" stroke-width="1.1" />
<line x1="206.3" y1="463.6456" x2="211.3" y2="463.6456" stroke="#111" stroke-width="1.1" />
<text x="206.95" y="456.88" font-size="5.2" text-anchor="middle" fill="#262626" font-family='"DejaVu Sans", sans-serif'>★</text>
<text x="211.65" y="456.88" font-size="5.2" text-anchor="middle" fill="#262626" font-family='"DejaVu Sans", sans-serif'>★</text>
<rect x="217.50" y="466.76" width="9.6" height="1.94" fill="#adadad" stroke="#222" stroke-width="1.05"/>
<line x1="222.3" y1="466.36719999999997" x2="222.3" y2="467.1448" stroke="#111" stroke-width="1.0" />
<line x1="219.8" y1="466.36719999999997" x2="224.8" y2="466.36719999999997" stroke="#111" stroke-width="1.1" />
<line x1="219.8" y1="467.1448" x2="224.8" y2="467.1448" stroke="#111" stroke-width="1.1" />
<rect x="231.40" y="462.48" width="9.6" height="6.22" fill="#adadad" stroke="#222" stroke-width="1.05"/>
<line x1="236.2" y1="461.3128" x2="236.2" y2="463.6456" stroke="#111" stroke-width="1.0" />
<line x1="233.7" y1="461.3128" x2="238.7" y2="461.3128" stroke="#111" stroke-width="1.1" />
<line x1="233.7" y1="463.6456" x2="238.7" y2="463.6456" stroke="#111" stroke-width="1.1" />
<text x="234.35" y="456.88" font-size="5.2" text-anchor="middle" fill="#262626" font-family='"DejaVu Sans", sans-serif'>★</text>
<text x="239.05" y="456.88" font-size="5.2" text-anchor="middle" fill="#262626" font-family='"DejaVu Sans", sans-serif'>★</text>
<rect x="245.20" y="468.10" width="9.6" height="0.60" fill="#adadad" stroke="#222" stroke-width="1.05"/>
<rect x="259.00" y="432.15" width="9.6" height="36.55" fill="#1e1e1e" stroke="#222" stroke-width="1.05"/>
<line x1="263.8" y1="429.82" x2="263.8" y2="434.48560000000003" stroke="#111" stroke-width="1.0" />
<line x1="261.3" y1="429.82" x2="266.3" y2="429.82" stroke="#111" stroke-width="1.1" />
<line x1="261.3" y1="434.48560000000003" x2="266.3" y2="434.48560000000003" stroke="#111" stroke-width="1.1" />
<text x="259.60" y="425.39" font-size="5.2" text-anchor="middle" fill="#262626" font-family='"DejaVu Sans", sans-serif'>★</text>
<text x="264.30" y="425.39" font-size="5.2" text-anchor="middle" fill="#262626" font-family='"DejaVu Sans", sans-serif'>★</text>
<text x="269.00" y="425.39" font-size="5.2" text-anchor="middle" fill="#262626" font-family='"DejaVu Sans", sans-serif'>★</text>
<line x1="173.4" y1="468.7" x2="271" y2="468.7" stroke="#111" stroke-width="1.3" />
<line x1="181.5" y1="468.7" x2="181.5" y2="471.4" stroke="#111" stroke-width="1.1" />
<line x1="195" y1="468.7" x2="195" y2="471.4" stroke="#111" stroke-width="1.1" />
<line x1="208.8" y1="468.7" x2="208.8" y2="471.4" stroke="#111" stroke-width="1.1" />
<line x1="222.3" y1="468.7" x2="222.3" y2="471.4" stroke="#111" stroke-width="1.1" />
<line x1="236.2" y1="468.7" x2="236.2" y2="471.4" stroke="#111" stroke-width="1.1" />
<line x1="250" y1="468.7" x2="250" y2="471.4" stroke="#111" stroke-width="1.1" />
<line x1="263.8" y1="468.7" x2="263.8" y2="471.4" stroke="#111" stroke-width="1.1" />
<text x="221.8" y="365" font-size="9.1" text-anchor="middle" fill="#1c1c1c" >Patient 44</text>
<line x1="312.5" y1="371.0" x2="312.5" y2="469.5" stroke="#111" stroke-width="1.25" />
<line x1="309.5" y1="371.5" x2="312.5" y2="371.5" stroke="#111" stroke-width="1.1" />
<text x="307.2" y="374.7" font-size="9.1" text-anchor="end" fill="#1c1c1c" >500</text>
<line x1="309.5" y1="391.0" x2="312.5" y2="391.0" stroke="#111" stroke-width="1.1" />
<text x="307.2" y="394.2" font-size="9.1" text-anchor="end" fill="#1c1c1c" >400</text>
<line x1="309.5" y1="410.5" x2="312.5" y2="410.5" stroke="#111" stroke-width="1.1" />
<text x="307.2" y="413.7" font-size="9.1" text-anchor="end" fill="#1c1c1c" >300</text>
<line x1="309.5" y1="430.0" x2="312.5" y2="430.0" stroke="#111" stroke-width="1.1" />
<text x="307.2" y="433.2" font-size="9.1" text-anchor="end" fill="#1c1c1c" >200</text>
<line x1="309.5" y1="449.5" x2="312.5" y2="449.5" stroke="#111" stroke-width="1.1" />
<text x="307.2" y="452.7" font-size="9.1" text-anchor="end" fill="#1c1c1c" >100</text>
<line x1="309.5" y1="469.0" x2="312.5" y2="469.0" stroke="#111" stroke-width="1.1" />
<text x="307.2" y="472.2" font-size="9.1" text-anchor="end" fill="#1c1c1c" >0</text>
<rect x="314.50" y="462.56" width="9.6" height="6.44" fill="#fff" stroke="#222" stroke-width="1.05"/>
<line x1="319.3" y1="461.59" x2="319.3" y2="463.54" stroke="#111" stroke-width="1.0" />
<line x1="316.8" y1="461.59" x2="321.8" y2="461.59" stroke="#111" stroke-width="1.1" />
<line x1="316.8" y1="463.54" x2="321.8" y2="463.54" stroke="#111" stroke-width="1.1" />
<rect x="328.40" y="451.45" width="9.6" height="17.55" fill="#adadad" stroke="#222" stroke-width="1.05"/>
<line x1="333.2" y1="446.575" x2="333.2" y2="456.325" stroke="#111" stroke-width="1.0" />
<line x1="330.7" y1="446.575" x2="335.7" y2="446.575" stroke="#111" stroke-width="1.1" />
<line x1="330.7" y1="456.325" x2="335.7" y2="456.325" stroke="#111" stroke-width="1.1" />
<text x="333.70" y="442.14" font-size="5.2" text-anchor="middle" fill="#262626" font-family='"DejaVu Sans", sans-serif'>★</text>
<rect x="342.20" y="455.35" width="9.6" height="13.65" fill="#adadad" stroke="#222" stroke-width="1.05"/>
<line x1="347" y1="451.45000000000005" x2="347" y2="459.25" stroke="#111" stroke-width="1.0" />
<line x1="344.5" y1="451.45000000000005" x2="349.5" y2="451.45000000000005" stroke="#111" stroke-width="1.1" />
<line x1="344.5" y1="459.25" x2="349.5" y2="459.25" stroke="#111" stroke-width="1.1" />
<text x="347.50" y="447.02" font-size="5.2" text-anchor="middle" fill="#262626" font-family='"DejaVu Sans", sans-serif'>★</text>
<rect x="355.90" y="466.07" width="9.6" height="2.93" fill="#adadad" stroke="#222" stroke-width="1.05"/>
<line x1="360.7" y1="465.49" x2="360.7" y2="466.65999999999997" stroke="#111" stroke-width="1.0" />
<line x1="358.2" y1="465.49" x2="363.2" y2="465.49" stroke="#111" stroke-width="1.1" />
<line x1="358.2" y1="466.65999999999997" x2="363.2" y2="466.65999999999997" stroke="#111" stroke-width="1.1" />
<rect x="369.90" y="445.60" width="9.6" height="23.40" fill="#adadad" stroke="#222" stroke-width="1.05"/>
<line x1="374.7" y1="441.70000000000005" x2="374.7" y2="449.5" stroke="#111" stroke-width="1.0" />
<line x1="372.2" y1="441.70000000000005" x2="377.2" y2="441.70000000000005" stroke="#111" stroke-width="1.1" />
<line x1="372.2" y1="449.5" x2="377.2" y2="449.5" stroke="#111" stroke-width="1.1" />
<text x="372.85" y="437.27" font-size="5.2" text-anchor="middle" fill="#262626" font-family='"DejaVu Sans", sans-serif'>★</text>
<text x="377.55" y="437.27" font-size="5.2" text-anchor="middle" fill="#262626" font-family='"DejaVu Sans", sans-serif'>★</text>
<rect x="383.60" y="465.10" width="9.6" height="3.90" fill="#adadad" stroke="#222" stroke-width="1.05"/>
<line x1="388.4" y1="464.125" x2="388.4" y2="466.07500000000005" stroke="#111" stroke-width="1.0" />
<line x1="385.9" y1="464.125" x2="390.9" y2="464.125" stroke="#111" stroke-width="1.1" />
<line x1="385.9" y1="466.07500000000005" x2="390.9" y2="466.07500000000005" stroke="#111" stroke-width="1.1" />
<rect x="397.40" y="379.69" width="9.6" height="89.31" fill="#1e1e1e" stroke="#222" stroke-width="1.05"/>
<line x1="402.2" y1="374.815" x2="402.2" y2="384.565" stroke="#111" stroke-width="1.0" />
<line x1="399.7" y1="374.815" x2="404.7" y2="374.815" stroke="#111" stroke-width="1.1" />
<line x1="399.7" y1="384.565" x2="404.7" y2="384.565" stroke="#111" stroke-width="1.1" />
<text x="398.00" y="370.38" font-size="5.2" text-anchor="middle" fill="#262626" font-family='"DejaVu Sans", sans-serif'>★</text>
<text x="402.70" y="370.38" font-size="5.2" text-anchor="middle" fill="#262626" font-family='"DejaVu Sans", sans-serif'>★</text>
<text x="407.40" y="370.38" font-size="5.2" text-anchor="middle" fill="#262626" font-family='"DejaVu Sans", sans-serif'>★</text>
<line x1="311.9" y1="469.0" x2="409.8" y2="469.0" stroke="#111" stroke-width="1.3" />
<line x1="319.3" y1="469.0" x2="319.3" y2="471.7" stroke="#111" stroke-width="1.1" />
<line x1="333.2" y1="469.0" x2="333.2" y2="471.7" stroke="#111" stroke-width="1.1" />
<line x1="347" y1="469.0" x2="347" y2="471.7" stroke="#111" stroke-width="1.1" />
<line x1="360.7" y1="469.0" x2="360.7" y2="471.7" stroke="#111" stroke-width="1.1" />
<line x1="374.7" y1="469.0" x2="374.7" y2="471.7" stroke="#111" stroke-width="1.1" />
<line x1="388.4" y1="469.0" x2="388.4" y2="471.7" stroke="#111" stroke-width="1.1" />
<line x1="402.2" y1="469.0" x2="402.2" y2="471.7" stroke="#111" stroke-width="1.1" />
<text x="361" y="365" font-size="9.1" text-anchor="middle" fill="#1c1c1c" >Patient 51</text>
<text transform="translate(9.0,420) rotate(-90)" font-size="9.1" text-anchor="middle" fill="#1c1c1c">IFNγ SFC/2 × 10<tspan font-size="6" dy="-3">5</tspan><tspan dy="3"> PBMC</tspan></text>
<text transform="translate(44.3,474.6) rotate(-90)" font-size="9.1" text-anchor="end" fill="#1c1c1c">Medium</text>
<text transform="translate(58.0,474.6) rotate(-90)" font-size="9.1" text-anchor="end" fill="#1c1c1c">ppCT<tspan font-size="6.3" dy="2.7">1–15</tspan></text>
<text transform="translate(71.80000000000001,474.6) rotate(-90)" font-size="9.1" text-anchor="end" fill="#1c1c1c">ppCT<tspan font-size="6.3" dy="2.7">86–100</tspan></text>
<text transform="translate(85.60000000000001,474.6) rotate(-90)" font-size="9.1" text-anchor="end" fill="#1c1c1c">ppCT<tspan font-size="6.3" dy="2.7">9–17</tspan></text>
<text transform="translate(99.5,474.6) rotate(-90)" font-size="9.1" text-anchor="end" fill="#1c1c1c">ppCT<tspan font-size="6.3" dy="2.7">16–25</tspan></text>
<text transform="translate(113.0,474.6) rotate(-90)" font-size="9.1" text-anchor="end" fill="#1c1c1c">ppCT<tspan font-size="6.3" dy="2.7">50–59</tspan></text>
<text transform="translate(125.7,474.6) rotate(-90)" font-size="9.1" text-anchor="end" fill="#1c1c1c">ppCT peptide</text>
<text transform="translate(137.5,474.6) rotate(-90)" font-size="9.1" text-anchor="end" fill="#1c1c1c">cocktail</text>
<text transform="translate(183.4,474.6) rotate(-90)" font-size="9.1" text-anchor="end" fill="#1c1c1c">Medium</text>
<text transform="translate(196.9,474.6) rotate(-90)" font-size="9.1" text-anchor="end" fill="#1c1c1c">ppCT<tspan font-size="6.3" dy="2.7">1–15</tspan></text>
<text transform="translate(210.70000000000002,474.6) rotate(-90)" font-size="9.1" text-anchor="end" fill="#1c1c1c">ppCT<tspan font-size="6.3" dy="2.7">86–100</tspan></text>
<text transform="translate(224.20000000000002,474.6) rotate(-90)" font-size="9.1" text-anchor="end" fill="#1c1c1c">ppCT<tspan font-size="6.3" dy="2.7">9–17</tspan></text>
<text transform="translate(238.1,474.6) rotate(-90)" font-size="9.1" text-anchor="end" fill="#1c1c1c">ppCT<tspan font-size="6.3" dy="2.7">16–25</tspan></text>
<text transform="translate(251.9,474.6) rotate(-90)" font-size="9.1" text-anchor="end" fill="#1c1c1c">ppCT<tspan font-size="6.3" dy="2.7">50–59</tspan></text>
<text transform="translate(265.40000000000003,474.6) rotate(-90)" font-size="9.1" text-anchor="end" fill="#1c1c1c">ppCT peptide</text>
<text transform="translate(276.0,474.6) rotate(-90)" font-size="9.1" text-anchor="end" fill="#1c1c1c">cocktail</text>
<text transform="translate(321.2,474.6) rotate(-90)" font-size="9.1" text-anchor="end" fill="#1c1c1c">Medium</text>
<text transform="translate(335.09999999999997,474.6) rotate(-90)" font-size="9.1" text-anchor="end" fill="#1c1c1c">ppCT<tspan font-size="6.3" dy="2.7">1–15</tspan></text>
<text transform="translate(348.9,474.6) rotate(-90)" font-size="9.1" text-anchor="end" fill="#1c1c1c">ppCT<tspan font-size="6.3" dy="2.7">86–100</tspan></text>
<text transform="translate(362.59999999999997,474.6) rotate(-90)" font-size="9.1" text-anchor="end" fill="#1c1c1c">ppCT<tspan font-size="6.3" dy="2.7">9–17</tspan></text>
<text transform="translate(376.59999999999997,474.6) rotate(-90)" font-size="9.1" text-anchor="end" fill="#1c1c1c">ppCT<tspan font-size="6.3" dy="2.7">16–25</tspan></text>
<text transform="translate(390.29999999999995,474.6) rotate(-90)" font-size="9.1" text-anchor="end" fill="#1c1c1c">ppCT<tspan font-size="6.3" dy="2.7">50–59</tspan></text>
<text transform="translate(403.4,474.6) rotate(-90)" font-size="9.1" text-anchor="end" fill="#1c1c1c">ppCT peptide</text>
<text transform="translate(413.09999999999997,474.6) rotate(-90)" font-size="9.1" text-anchor="end" fill="#1c1c1c">cocktail</text>
<line x1="35.9" y1="548.2" x2="35.9" y2="657.9" stroke="#444" stroke-width="1.0" />
<line x1="32.9" y1="548.7" x2="35.9" y2="548.7" stroke="#444" stroke-width="1.1" />
<text x="30.2" y="551.9000000000001" font-size="9.1" text-anchor="end" fill="#1c1c1c" >30</text>
<line x1="32.9" y1="584.9333333333334" x2="35.9" y2="584.9333333333334" stroke="#444" stroke-width="1.1" />
<text x="30.2" y="588.1333333333334" font-size="9.1" text-anchor="end" fill="#1c1c1c" >20</text>
<line x1="32.9" y1="621.1666666666666" x2="35.9" y2="621.1666666666666" stroke="#444" stroke-width="1.1" />
<text x="30.2" y="624.3666666666667" font-size="9.1" text-anchor="end" fill="#1c1c1c" >10</text>
<line x1="32.9" y1="657.4" x2="35.9" y2="657.4" stroke="#444" stroke-width="1.1" />
<text x="30.2" y="660.6" font-size="9.1" text-anchor="end" fill="#1c1c1c" >0</text>
<line x1="35.3" y1="657.4" x2="131.5" y2="657.4" stroke="#111" stroke-width="1.3" />
<line x1="47.9" y1="657.4" x2="47.9" y2="660.1" stroke="#111" stroke-width="1.1" />
<line x1="130.6" y1="657.4" x2="130.6" y2="660.1" stroke="#111" stroke-width="1.1" />
<text x="47.9" y="670.5" font-size="9.1" text-anchor="middle" fill="#1c1c1c" >50:1</text>
<text x="130.6" y="670.5" font-size="9.1" text-anchor="middle" fill="#1c1c1c" >25:1</text>
<text x="84.6" y="685" font-size="9.1" text-anchor="middle" fill="#1c1c1c" >E:T ratio</text>
<text transform="translate(12.5,603) rotate(-90)" font-size="9.1" text-anchor="middle" fill="#1c1c1c">% specific lysis</text>
<line x1="47.7" y1="565" x2="130.2" y2="609.3" stroke="#111" stroke-width="1.0" />
<line x1="47.7" y1="571.7" x2="130.2" y2="606.8" stroke="#111" stroke-width="0.9" />
<line x1="47.7" y1="574.2" x2="130.2" y2="604.6" stroke="#111" stroke-width="0.9" />
<line x1="47.7" y1="574.4" x2="130.2" y2="618.3" stroke="#111" stroke-width="1.6" />
<rect x="45.2" y="571.7" width="5.0" height="5.0" fill="#1e1e1e" stroke="#111" stroke-width="1"/>
<circle cx="47.7" cy="574.2" r="2.45" fill="#1e1e1e" stroke="#111" stroke-width="1.3"/>
<circle cx="47.7" cy="572" r="2.45" fill="#fff" stroke="#111" stroke-width="1.3"/>
<rect x="45.2" y="562.5" width="5.0" height="5.0" fill="#fff" stroke="#111" stroke-width="1"/>
<rect x="127.69999999999999" y="615.8" width="5.0" height="5.0" fill="#fff" stroke="#111" stroke-width="1"/>
<circle cx="130.2" cy="606.5" r="2.45" fill="#fff" stroke="#111" stroke-width="1.3"/>
<rect x="127.69999999999999" y="606.8" width="5.0" height="5.0" fill="#fff" stroke="#111" stroke-width="1"/>
<circle cx="130.2" cy="605.1" r="2.45" fill="#1e1e1e" stroke="#111" stroke-width="1.3"/>
<text x="155.4" y="566.3" font-size="9.1" text-anchor="start" fill="#1c1c1c" >Patient 3</text>
<text x="155.4" y="608.2" font-size="9.1" text-anchor="start" fill="#1c1c1c" >Patient 13</text>
<line x1="163.8" y1="576.7" x2="176.3" y2="576.7" stroke="#111" stroke-width="1.0" />
<circle cx="170" cy="576.7" r="1.9" fill="#fff" stroke="#111" stroke-width="1.0"/>
<text x="178.8" y="579.9000000000001" font-size="9.1" text-anchor="start" fill="#1c1c1c" >IGR-Heu</text>
<line x1="163.8" y1="588.2" x2="176.3" y2="588.2" stroke="#111" stroke-width="1.0" />
<circle cx="170" cy="588.2" r="2.3" fill="#1e1e1e" stroke="#111" stroke-width="1.3"/>
<text x="178.8" y="591.4000000000001" font-size="9.1" text-anchor="start" fill="#1c1c1c" >IGR-Heu-TAP</text>
<line x1="163.8" y1="617.8" x2="176.3" y2="617.8" stroke="#111" stroke-width="1.0" />
<rect x="167.7" y="615.5" width="4.6" height="4.6" fill="#fff" stroke="#111" stroke-width="1"/>
<text x="178.8" y="621.0" font-size="9.1" text-anchor="start" fill="#1c1c1c" >IGR-Heu</text>
<line x1="163.8" y1="629.7" x2="176.3" y2="629.7" stroke="#111" stroke-width="1.0" />
<rect x="167.7" y="627.4000000000001" width="4.6" height="4.6" fill="#1e1e1e" stroke="#111" stroke-width="1"/>
<text x="178.8" y="632.9000000000001" font-size="9.1" text-anchor="start" fill="#1c1c1c" >IGR-Heu-TAP</text>
</svg>
</body></html>
